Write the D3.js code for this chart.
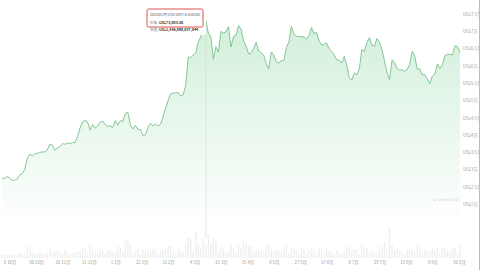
<!DOCTYPE html>
<html>
<head>
<meta charset="utf-8">
<script src="https://cdn.jsdelivr.net/npm/d3@7"></script>
<style>
  body { margin: 0; background: #fff; }
  text { font-family: "Noto Sans CJK SC", "Noto Sans", sans-serif; }
</style>
</head>
<body>
<div id="chart"></div>
<script>
// BTC price, one point every 2 days from 2023-10-03
var start_date = '2023-10-03';
var step_days  = 2;
var prices = [
  27430,27410,27950,27590,26870,26860,27160,28420,28720,29910,33090,34500,33910,34530,34670,
  34940,35080,35050,35660,37320,37070,35550,36170,36570,37480,37290,37720,37480,37820,37720,
  39460,41980,43770,44200,43780,41450,43020,41930,42620,43660,43970,43010,42520,42580,42150,
  44170,42850,44160,43930,46100,46630,42850,41730,42740,41620,41580,39840,40030,42120,43300,42580,
  43190,42580,43090,45290,47770,49960,51840,52120,52140,52280,51300,51570,54480,62500,
  62440,63110,63790,66850,68500,72120,73080,69500,68390,61910,65490,64060,69960,69460,69900,71330,
  65470,68520,68900,71630,70630,67200,65740,63430,63800,64940,66840,64280,63760,63120,60640,
  59120,64010,63160,61190,60790,61450,61580,65240,66940,71450,69170,68520,68520,68370,68350,
  67750,68800,71080,69350,69650,67320,66010,66190,66640,64960,64100,63180,61800,61610,60810,
  62680,60210,56660,55860,58000,57340,59180,64780,64100,66710,68160,65920,65780,67910,66820,64620,
  61410,58120,56040,61710,60880,59350,58740,58870,58430,59010,60380,64220,62880,59040,59120,
  57330,57480,56160,54840,57020,57640,60550,59180,60310,62950,63350,63330,63140,65790,65600,
  63800
];
// volume, billions of US$
var volumes = [
  10,9,12,11,10,9,8,15,14,13,32,38,20,12,14,
  18,15,12,17,30,15,21,22,16,13,25,18,10,16,18,
  20,22,33,28,14,38,25,20,17,28,25,14,24,25,16,
  18,38,31,17,52,55,45,15,22,26,10,27,22,17,25,30,
  24,12,23,30,29,38,38,20,13,30,22,17,44,65,
  60,20,80,45,28,60,40,75,43,60,55,22,38,30,17,20,
  40,32,15,40,33,60,45,40,40,20,25,24,19,19,40,
  42,28,20,25,22,15,22,37,15,36,30,25,12,31,28,
  12,26,34,28,11,31,26,10,30,22,20,10,24,15,12,
  17,33,36,22,28,25,10,42,30,30,17,27,17,13,38,31,
  48,27,96,40,22,30,26,16,13,27,28,25,18,38,29,
  18,28,25,19,32,26,32,12,30,30,22,20,30,35,12,
  38
];

var y_ticks  = [20000,25000,30000,35000,40000,45000,50000,55000,60000,65000,70000,75000];
var y_labels = ['US$2万','US$2.5万','US$3万','US$3.5万','US$4万','US$4.5万','US$5万','US$5.5万','US$6万','US$6.5万','US$7万','US$7.5万'];
var x_ticks  = ['2023-10-09','2023-10-30','2023-11-20','2023-12-11','2024-01-01','2024-01-22','2024-02-12','2024-03-04','2024-03-25',
                '2024-04-15','2024-05-06','2024-05-27','2024-06-17','2024-07-08','2024-07-29','2024-08-19','2024-09-09','2024-09-30'];

var tip_index   = 81;
var tip_date    = '2024年3月13日 GMT+8 8:00:00';
var tip_price   = 'US$73,083.50';
var tip_mcap    = 'US$1,436,998,837,044';

var parse = d3.timeParse('%Y-%m-%d');
var t0 = parse(start_date);
var data = prices.map(function(p, i){
  return { date: d3.timeDay.offset(t0, i * step_days), price: p, vol: volumes[i] };
});

var width = 480, height = 270;
var svg = d3.select('#chart').append('svg')
    .attr('width', width)
    .attr('height', height);

var scale_x = d3.scaleTime()
    .domain([t0, parse('2024-10-01')])
    .range([2, 460]);
var scale_y = d3.scaleLinear()
    .domain([20000, 75000])
    .range([204, 14]);
var scale_v = d3.scaleLinear()
    .domain([0, d3.max(volumes)])
    .range([258, 227]);

var defs = svg.append('defs');
var grad = defs.append('linearGradient')
    .attr('id', 'fill')
    .attr('gradientUnits', 'userSpaceOnUse')
    .attr('x1', 0).attr('y1', 15).attr('x2', 0).attr('y2', 225);
grad.append('stop').attr('offset', 0).attr('stop-color', '#3dbb62').attr('stop-opacity', 0.24);
grad.append('stop').attr('offset', 1).attr('stop-color', '#3dbb62').attr('stop-opacity', 0.0);

// volume bars
svg.append('g').selectAll('rect')
   .data(data)
   .enter().append('rect')
   .attr('x', function(d){ return scale_x(d.date) - 0.7; })
   .attr('y', function(d){ return scale_v(d.vol); })
   .attr('width', 1.4)
   .attr('height', function(d){ return 258 - scale_v(d.vol); })
   .attr('fill', '#efefef');

var area = d3.area()
    .x(function(d){ return scale_x(d.date); })
    .y0(226)
    .y1(function(d){ return scale_y(d.price); });
var line = d3.line()
    .x(function(d){ return scale_x(d.date); })
    .y(function(d){ return scale_y(d.price); });

svg.append('path').datum(data)
   .attr('d', area)
   .attr('fill', 'url(#fill)');

// hover line
var tip_x = scale_x(data[tip_index].date);
svg.append('line')
   .attr('x1', tip_x).attr('x2', tip_x)
   .attr('y1', scale_y(data[tip_index].price)).attr('y2', 238)
   .attr('stroke', '#d8d8d8').attr('stroke-width', 0.6);

svg.append('path').datum(data)
   .attr('d', line)
   .attr('fill', 'none')
   .attr('stroke', '#62b476')
   .attr('stroke-width', 0.75);

// right axis
var axis_y = d3.axisRight(scale_y)
    .tickValues(y_ticks)
    .tickFormat(function(d, i){ return y_labels[i]; })
    .tickSize(0);
var gy = svg.append('g')
   .attr('class', 'y-axis')
   .attr('transform', 'translate(463,0)')
   .call(axis_y);
gy.select('.domain').remove();
gy.selectAll('text')
  .attr('x', 0)
  .attr('fill', '#9a9a9a')
  .style('font-size', '4.3px');

// bottom axis
var axis_x = d3.axisBottom(scale_x)
    .tickValues(x_ticks.map(parse))
    .tickFormat(function(d){ return d.getDate() + ' ' + (d.getMonth() + 1) + '月'; })
    .tickSize(0);
var gx = svg.append('g')
   .attr('class', 'x-axis')
   .attr('transform', 'translate(0,260)')
   .call(axis_x);
gx.select('.domain').remove();
gx.selectAll('text')
  .attr('y', 0.5)
  .attr('fill', '#9a9a9a')
  .style('font-size', '4.3px');

// watermark
var wm = svg.append('g').attr('transform', 'translate(433,200)');
wm.append('circle').attr('cx', 1.5).attr('cy', 0).attr('r', 1.6).attr('fill', '#e6e6e6');
wm.append('text').attr('x', 4).attr('y', 1.1).text('CoinMarketCap')
  .attr('fill', '#e2e2e2').style('font-size', '2.9px').style('font-weight', 'bold');

// tooltip
var tip = svg.append('g');
tip.append('rect')
   .attr('x', 144).attr('y', 5).attr('width', 62).attr('height', 30)
   .attr('fill', '#fff').attr('fill-opacity', 0.92);
tip.append('rect')
   .attr('x', 147).attr('y', 9).attr('width', 56).attr('height', 18).attr('rx', 1.5)
   .attr('fill', 'none').attr('stroke', '#d9403a').attr('stroke-width', 0.9);
tip.append('text').attr('x', 150).attr('y', 15.5).text(tip_date)
   .attr('fill', '#555').style('font-size', '3.6px');
var t2 = tip.append('text').attr('x', 150).attr('y', 24).attr('fill', '#777').style('font-size', '3.6px');
t2.append('tspan').text('价格: ');
t2.append('tspan').text(tip_price).attr('fill', '#333').style('font-weight', 'bold');
var t3 = tip.append('text').attr('x', 150).attr('y', 31).attr('fill', '#777').style('font-size', '3.6px');
t3.append('tspan').text('市值: ');
t3.append('tspan').text(tip_mcap).attr('fill', '#333').style('font-weight', 'bold');

svg.append('line')
   .attr('x1', 479.5).attr('x2', 479.5).attr('y1', 0).attr('y2', height)
   .attr('stroke', '#bbb').attr('stroke-width', 1);
</script>
</body>
</html>
